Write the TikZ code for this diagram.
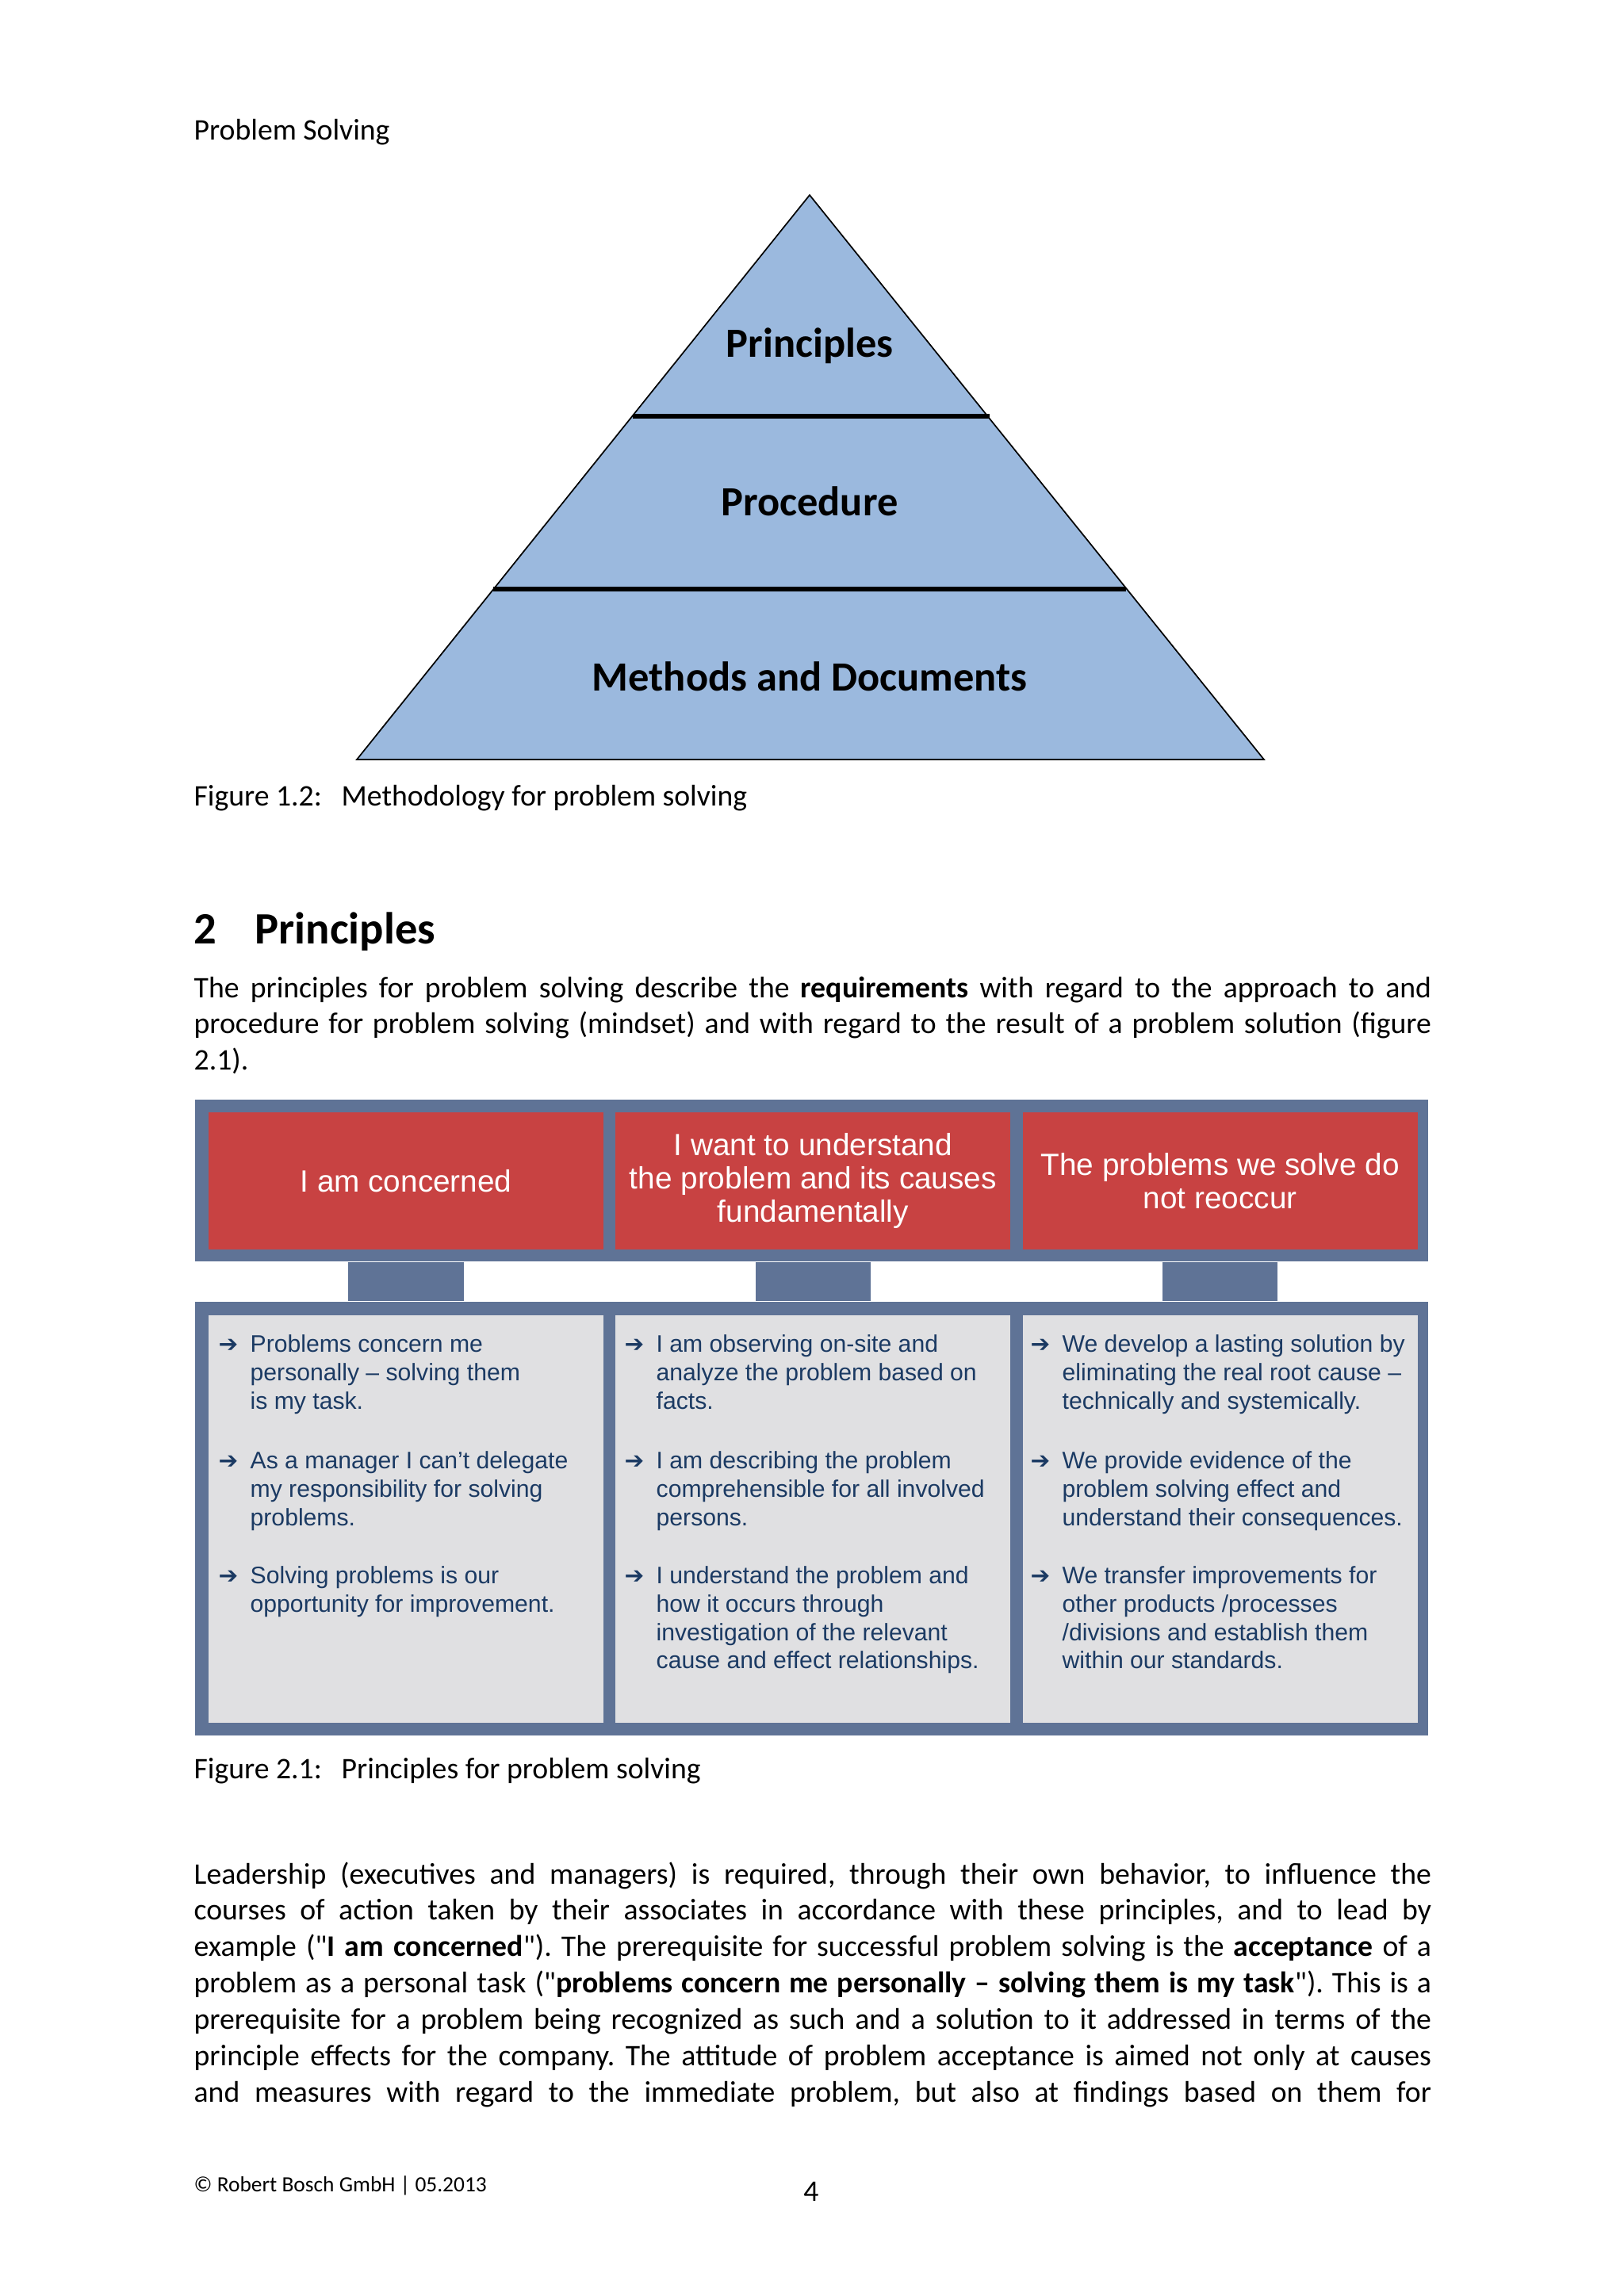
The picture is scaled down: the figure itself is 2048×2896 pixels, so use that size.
\documentclass[tikz,border=0pt]{standalone}
\usepackage{fontspec}
\setmainfont{Carlito}
\newfontfamily\boxfont{Liberation Sans}
\newfontfamily\symfont{DejaVu Sans}
\usetikzlibrary{positioning}
\definecolor{pyrblue}{HTML}{9BB9DE}
\definecolor{frameblue}{HTML}{5F7396}
\definecolor{headred}{HTML}{C84242}
\definecolor{cellgray}{HTML}{E0E0E2}
\definecolor{inkblue}{HTML}{1B3A63}
\newcommand{\bul}{{\symfont\bfseries\fontsize{8.6}{8.6}\selectfont ➔}}
\newcommand{\pitem}[1]{\makebox[4.1mm][l]{\bul}\begin{tabular}[t]{@{}l@{}}#1\end{tabular}}
\newcommand{\qq}{\textquotedbl}
\frenchspacing

\begin{document}
\begin{tikzpicture}[
  x=0.10254mm, y=-0.10254mm,
  every node/.style={inner sep=0pt},
  txt/.style={anchor=base west, font=\fontsize{11}{13.4}\selectfont},
  tier/.style={font=\bfseries\fontsize{15.3}{18}\selectfont},
  frame/.style={fill=frameblue, minimum width=159.45mm},
  headbox/.style={fill=headred, minimum width=51.06mm, minimum height=17.74mm,
                  text=white, align=center, font=\boxfont\fontsize{11.3}{12.2}\selectfont},
  cell/.style={fill=cellgray, minimum width=51.06mm, minimum height=52.71mm},
  item/.style={anchor=base west, text=inkblue, font=\boxfont\fontsize{8.8}{10.5}\selectfont},
  link/.style={draw=frameblue, line width=14.87mm},
]
  \useasboundingbox[fill=white] (0,0) rectangle (2048,2896);

  \node[txt] (runhead) at (244,176) {Problem Solving};

  % pyramid
  \filldraw[fill=pyrblue, draw=black, line width=0.5pt] (1021,246) -- (1594,958) -- (450,958) -- cycle;
  \draw[line width=1.6pt] (798,525) -- (1248,525);
  \draw[line width=1.6pt] (622,743) -- (1420,743);
  \node[tier] (tprin) at (1021,436) {Principles};
  \node[tier] (tproc) at (1021,632) {Procedure};
  \node[tier] (tmeth) at (1021,853) {Methods and Documents};

  \node[txt] (cap1) at (244,1016) {\makebox[19.07mm][l]{Figure 1.2:}Methodology for problem solving};

  \node[txt, font=\bfseries\fontsize{16.5}{20}\selectfont] (sec) at (244,1190) {\makebox[7.9mm][l]{2}Principles};

  \node[txt] (para1) at (244,1258) {\parbox[t]{160mm}{\fontsize{11}{13.4}\selectfont
    The principles for problem solving describe the \textbf{requirements} with regard to the approach to and\linebreak
    procedure for problem solving (mindset) and with regard to the result of a problem solution (figure\linebreak
    2.1).}};

  % principles chart
  \node[frame, minimum height=20.92mm] (topframe) at (1023.5,1489) {};
  \node[frame, minimum height=56.09mm] (botframe) at (1023.5,1915.5) {};

  \node[headbox] (head1) at (512,1489.5) {I am concerned};
  \node[headbox, right=1.44mm of head1] (head2) {I want to understand\\the problem and its causes\\fundamentally};
  \node[headbox, right=1.44mm of head2] (head3) {The problems we solve do\\not reoccur};

  \node[cell, below=8.41mm of head1] (cell1) {};
  \node[cell, below=8.41mm of head2] (cell2) {};
  \node[cell, below=8.41mm of head3] (cell3) {};

  \draw[link] (head1.south |- topframe.south) -- (cell1.north |- botframe.north);
  \draw[link] (head2.south |- topframe.south) -- (cell2.north |- botframe.north);
  \draw[link] (head3.south |- topframe.south) -- (cell3.north |- botframe.north);

  \node[item] (i11) at (275,1705) {\pitem{Problems concern me\\personally – solving them\\is my task.}};
  \node[item] (i12) at (275,1852) {\pitem{As a manager I can’t delegate\\my responsibility for solving\\problems.}};
  \node[item] (i13) at (275,1997) {\pitem{Solving problems is our\\opportunity for improvement.}};

  \node[item] (i21) at (787,1705) {\pitem{I am observing on-site and\\analyze the problem based on\\facts.}};
  \node[item] (i22) at (787,1852) {\pitem{I am describing the problem\\comprehensible for all involved\\persons.}};
  \node[item] (i23) at (787,1997) {\pitem{I understand the problem and\\how it occurs through\\investigation of the relevant\\cause and effect relationships.}};

  \node[item] (i31) at (1299,1705) {\pitem{We develop a lasting solution by\\eliminating the real root cause –\\technically and systemically.}};
  \node[item] (i32) at (1299,1852) {\pitem{We provide evidence of the\\problem solving effect and\\understand their consequences.}};
  \node[item] (i33) at (1299,1997) {\pitem{We transfer improvements for\\other products /processes\\/divisions and establish them\\within our standards.}};

  \node[txt] (cap2) at (244,2243) {\makebox[19.07mm][l]{Figure 2.1:}Principles for problem solving};

  \node[txt] (para2) at (244,2376) {\parbox[t]{160mm}{\fontsize{11}{13.4}\selectfont\parfillskip=0pt
    Leadership (executives and managers) is required, through their own behavior, to influence the\linebreak
    courses of action taken by their associates in accordance with these principles, and to lead by\linebreak
    example (\qq\textbf{I am concerned}\qq). The prerequisite for successful problem solving is the \textbf{acceptance} of a\linebreak
    problem as a personal task (\qq\textbf{problems concern me personally – solving them is my task}\qq). This is a\linebreak
    prerequisite for a problem being recognized as such and a solution to it addressed in terms of the\linebreak
    principle effects for the company. The attitude of problem acceptance is aimed not only at causes\linebreak
    and measures with regard to the immediate problem, but also at findings based on them for}};

  \node[txt, font=\fontsize{8}{10}\selectfont] (foot) at (244,2764) {© Robert Bosch GmbH | 05.2013};
  \node[anchor=base, font=\fontsize{11}{13.4}\selectfont] (pageno) at (1023,2776) {4};
\end{tikzpicture}
\end{document}
